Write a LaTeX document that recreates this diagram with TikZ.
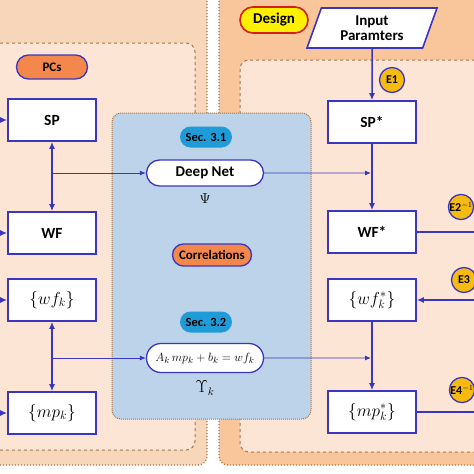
\documentclass[tikz,border=0pt]{standalone}
\usepackage{amsmath}
\usepackage{fontspec}
\setmainfont{Carlito}
\usetikzlibrary{positioning,shapes.geometric,shapes.misc,arrows.meta}

\definecolor{outerL}{HTML}{F7D6BA}
\definecolor{outerR}{HTML}{F9C69B}
\definecolor{innerP}{HTML}{FCE5D4}
\definecolor{blueP}{HTML}{BCD3E9}
\definecolor{edgeC}{HTML}{3A36C0}
\definecolor{pcsC}{HTML}{F4874B}
\definecolor{secC}{HTML}{1F9BD7}
\definecolor{eC}{HTML}{F6BA10}
\definecolor{dashC}{HTML}{A8754E}
\definecolor{designC}{HTML}{FFF000}
\definecolor{redC}{HTML}{D3201B}

\begin{document}
\begin{tikzpicture}[x=1pt,y=-1pt,
   box/.style={draw=edgeC,line width=1.7pt,fill=white,minimum width=88pt,
     minimum height=42pt,inner sep=0pt,font=\bfseries\fontsize{15.5}{17}\selectfont},
   mbox/.style={box,font=\fontsize{16.5}{18}\selectfont},
   pill/.style={rounded rectangle,draw=edgeC,line width=1.3pt,inner sep=0pt,
     font=\bfseries\fontsize{15}{17}\selectfont},
   tag/.style={rounded rectangle,fill=secC,inner sep=0pt,minimum width=52pt,
     minimum height=21pt,font=\bfseries\fontsize{12.5}{14}\selectfont},
   ecirc/.style={circle,draw=edgeC,line width=1.3pt,fill=eC,minimum size=25pt,
     inner sep=0pt,font=\bfseries\fontsize{12}{14}\selectfont},
   conn/.style={draw=edgeC,line width=1.5pt,-{Latex[length=7pt,width=6pt]}},
   both/.style={conn,{Latex[length=7pt,width=6pt]}-{Latex[length=7pt,width=6pt]}},
   tconn/.style={draw=edgeC,line width=0.9pt,-{Latex[length=6pt,width=5pt]}},
   panel/.style={rounded corners=9pt,draw=dashC,line width=1pt}]

\useasboundingbox (0,0) rectangle (474,474);
\clip (0,0) rectangle (474,474);
\fill[white] (0,0) rectangle (474,474);

\filldraw[panel,fill=outerL,dotted,line width=1.4pt] (-20,-20) rectangle (207,465);
\filldraw[panel,fill=outerR,dotted,line width=1.4pt] (219,-20) rectangle (495,465);
\filldraw[panel,fill=innerP,dashed] (-20,43) rectangle (195,450);
\filldraw[panel,fill=innerP,dashed] (240,60) rectangle (495,452);
\filldraw[panel,fill=blueP,densely dotted] (112,113) rectangle (311,419);

\node[pill,fill=pcsC,minimum width=71pt,minimum height=24pt,
  font=\bfseries\fontsize{13}{15}\selectfont] (pcs) at (52,67) {PCs};
\node[box] (sp) at (52,120) {SP};
\node[box] (wf) at (52,233) {WF};
\node[mbox] (wfk) at (52,300) {$\{wf_k\}$};
\node[mbox] (mpk) at (52,413) {$\{mp_k\}$};

\node[tag] (sec1) at (206,137) {Sec. 3.1};
\node[pill,fill=white,minimum width=117pt,minimum height=26pt] (net) at (205,173) {Deep Net};
\node[font=\fontsize{14}{16}\selectfont] (psi) at (205,199) {$\Psi$};
\node[pill,fill=pcsC,minimum width=79pt,minimum height=22pt,
  font=\bfseries\fontsize{13}{15}\selectfont] (corr) at (212,255) {Correlations};
\node[tag] (sec2) at (206,322) {Sec. 3.2};
\node[pill,fill=white,minimum width=117pt,minimum height=29pt,
  font=\fontsize{12.5}{14}\selectfont] (eqn) at (205,358) {$A_k\,mp_k+b_k=wf_k$};
\node[font=\fontsize{16}{18}\selectfont] (ups) at (205,388) {$\Upsilon_k$};

\node[pill,fill=designC,draw=redC,line width=1.6pt,minimum width=68pt,
  minimum height=26pt] (design) at (274,20) {Design};
\node[trapezium,trapezium left angle=60,trapezium right angle=120,
  trapezium stretches body,draw=edgeC,line width=1.6pt,fill=white,
  minimum width=130pt,minimum height=40pt,inner sep=0pt,align=center,
  font=\bfseries\fontsize{15}{16}\selectfont] (input) at (372,28) {Input\\[-1pt]Paramters};
\node[box] (sps) at (372,122) {SP*};
\node[box] (wfs) at (372,232) {WF*};
\node[mbox] (wfks) at (372,300) {$\{wf_k^*\}$};
\node[mbox] (mpks) at (372,412) {$\{mp_k^*\}$};

\node[ecirc] (e1) at (392,80) {E1};
\node[ecirc] (e2) at (461,207) {E2$^{-1}$};
\node[ecirc] (e3) at (464,280) {E3};
\node[ecirc] (e4) at (462,390) {E4$^{-1}$};

\coordinate (insp) at (-5,120);
\coordinate (inwf) at (-5,233);
\coordinate (inwfk) at (-5,300);
\coordinate (inmpk) at (-5,413);
\coordinate (brtop) at (52,173);
\coordinate (brbot) at (52,358);
\coordinate (hitnet) at (371,173);
\coordinate (hiteqn) at (371,358);
\coordinate (outwf) at (480,232);
\coordinate (inwfks) at (480,300);
\coordinate (outmp) at (480,412);

\draw[conn] (insp) -- (sp);
\draw[conn] (inwf) -- (wf);
\draw[conn] (inwfk) -- (wfk);
\draw[conn] (inmpk) -- (mpk);
\draw[both] (sp) -- (wf);
\draw[both] (wfk) -- (mpk);
\draw[tconn] (brtop) -- (net);
\draw[tconn] (brbot) -- (eqn);
\draw[tconn] (net) -- (hitnet);
\draw[tconn] (eqn) -- (hiteqn);

\draw[conn] (input) -- (sps);
\draw[conn] (sps) -- (wfs);
\draw[conn] (wfks) -- (mpks);
\draw[conn,-] (wfs) -- (outwf);
\draw[conn] (inwfks) -- (wfks);
\draw[conn,-] (mpks) -- (outmp);

\end{tikzpicture}
\end{document}
